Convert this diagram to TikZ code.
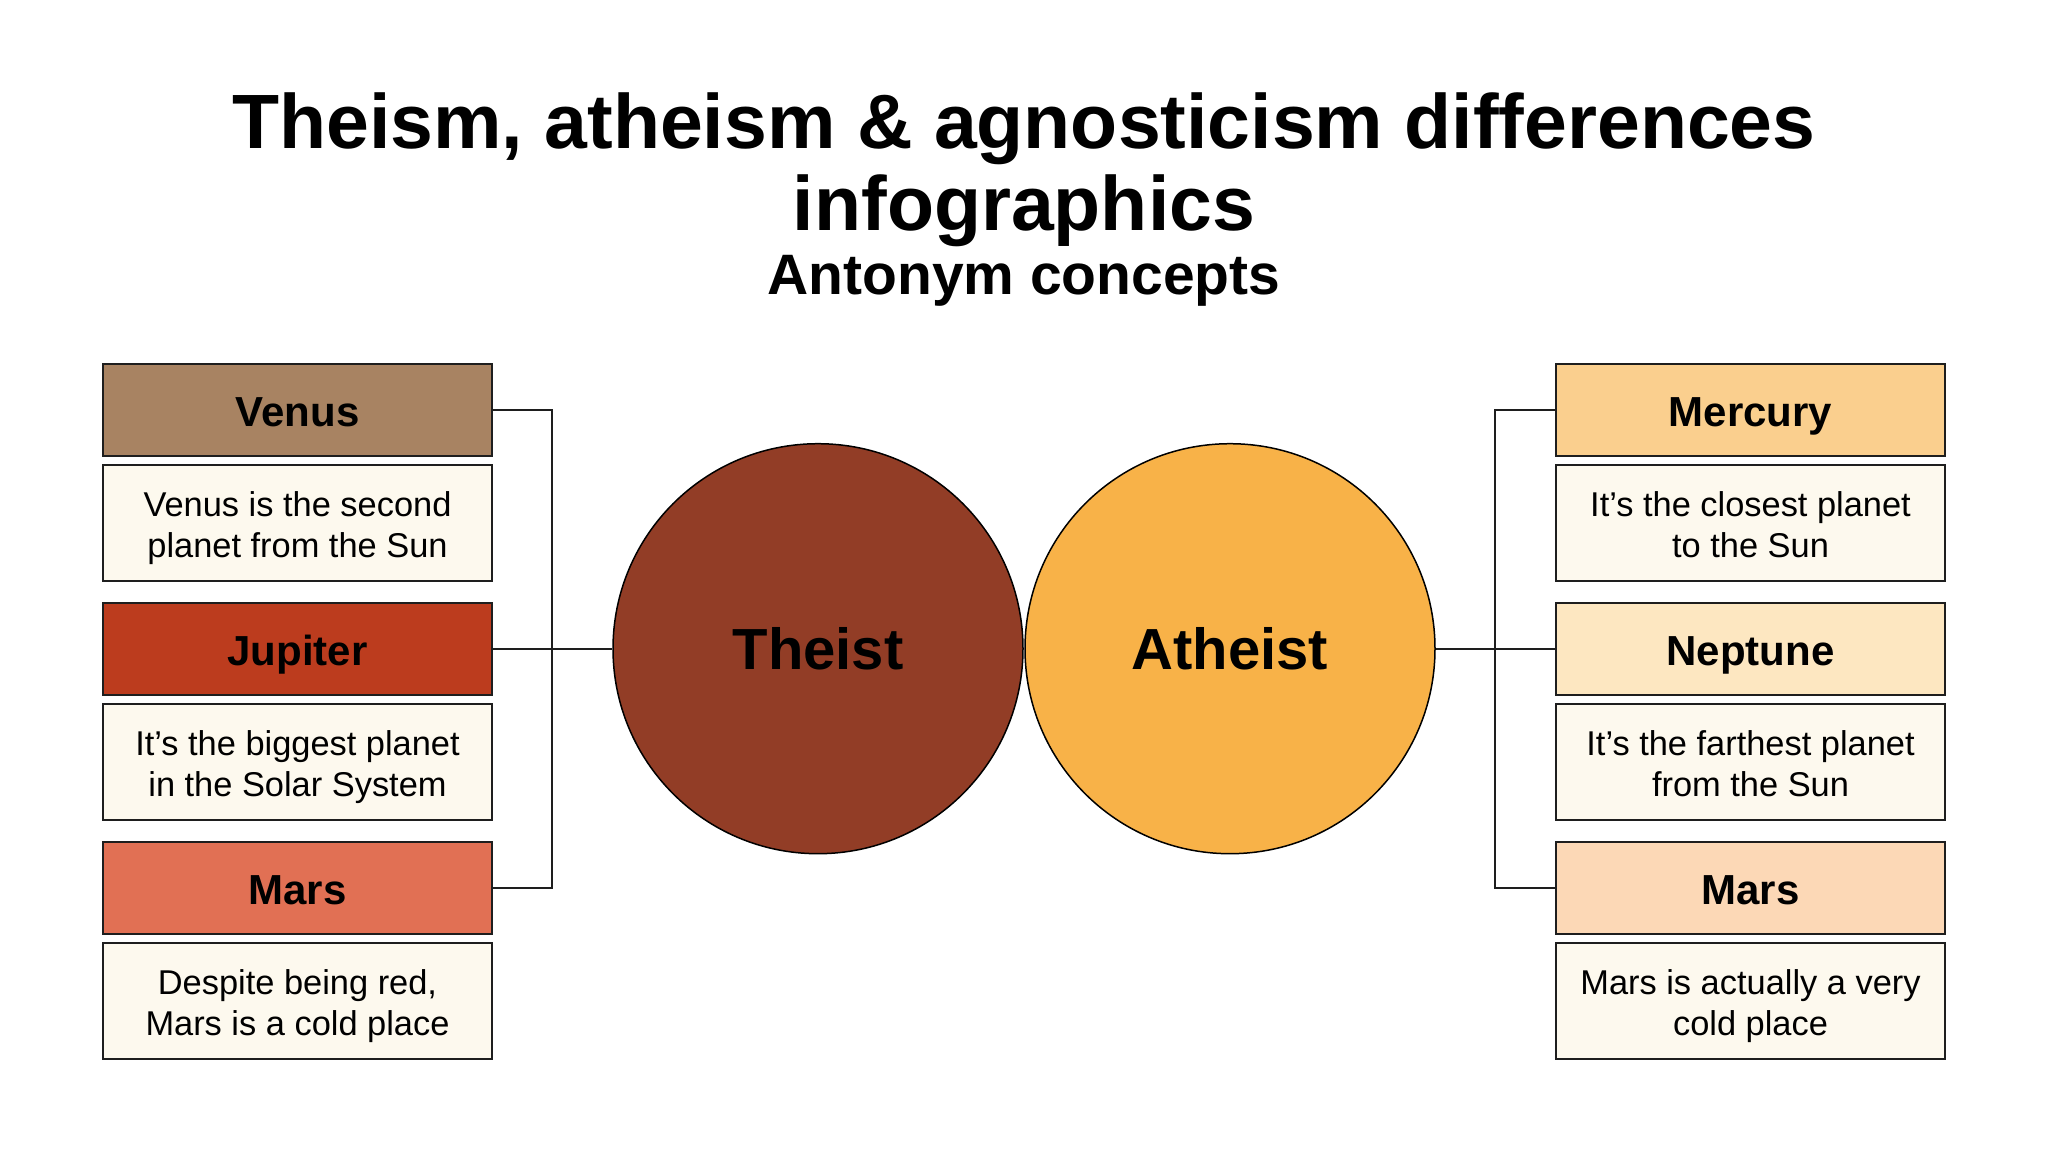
\documentclass[tikz,border=0pt]{standalone}
\usepackage{fontspec}
\setmainfont{Liberation Sans}
\usepackage{xcolor}
\usetikzlibrary{positioning}

\definecolor{lineC}{RGB}{30,30,30}
\definecolor{creamC}{RGB}{253,249,238}
\definecolor{venusC}{RGB}{168,131,98}
\definecolor{jupiterC}{RGB}{188,60,30}
\definecolor{marsC}{RGB}{225,112,84}
\definecolor{mercuryC}{RGB}{250,207,142}
\definecolor{neptuneC}{RGB}{253,231,193}
\definecolor{marsRC}{RGB}{252,216,182}
\definecolor{theistC}{RGB}{146,61,38}
\definecolor{atheistC}{RGB}{248,178,72}

\begin{document}
\begin{tikzpicture}[x=1pt, y=-1pt,
    head/.style={draw=lineC, line width=2pt, minimum width=389pt, minimum height=92pt,
        text height=34pt, text depth=0pt, font=\fontsize{42}{48}\selectfont\bfseries},
    desc/.style={draw=lineC, line width=2pt, fill=creamC, minimum width=389pt, minimum height=116pt,
        text height=78.6pt, text depth=10pt, align=center, font=\fontsize{34.4}{40.5}\selectfont},
    planet/.style={circle, draw=black, line width=1.5pt, minimum size=410pt,
        font=\fontsize{58}{64}\selectfont\bfseries},
    link/.style={draw=lineC, line width=2pt}]

    % Canvas
    \fill[white] (0,0) rectangle (2048,1152);

    % Title
    \node[anchor=base, font=\fontsize{77}{84}\selectfont\bfseries] (title) at (1024,148) {Theism, atheism \& agnosticism differences};
    \node[anchor=base, font=\fontsize{77}{84}\selectfont\bfseries] (title2) at (1024,230) {infographics};
    \node[anchor=base, font=\fontsize{57}{62}\selectfont\bfseries] (subtitle) at (1024,294) {Antonym concepts};

    % Left column
    \node[head, fill=venusC] (venus) at (297.5,409.7) {Venus};
    \node[desc, below=7pt of venus] (venusTxt) {Venus is the second\\planet from the Sun};
    \node[head, fill=jupiterC] (jupiter) at (297.5,648.7) {Jupiter};
    \node[desc, below=7pt of jupiter] (jupiterTxt) {It’s the biggest planet\\in the Solar System};
    \node[head, fill=marsC] (marsL) at (297.5,887.7) {Mars};
    \node[desc, below=7pt of marsL] (marsLTxt) {Despite being red,\\Mars is a cold place};

    % Right column
    \node[head, fill=mercuryC] (mercury) at (1750.5,409.7) {Mercury};
    \node[desc, below=7pt of mercury] (mercuryTxt) {It’s the closest planet\\to the Sun};
    \node[head, fill=neptuneC] (neptune) at (1750.5,648.7) {Neptune};
    \node[desc, below=7pt of neptune] (neptuneTxt) {It’s the farthest planet\\from the Sun};
    \node[head, fill=marsRC] (marsR) at (1750.5,887.7) {Mars};
    \node[desc, below=7pt of marsR] (marsRTxt) {Mars is actually a very\\cold place};

    % Circles
    \node[planet, fill=theistC] (theist) at (818,648.7) {Theist};
    \node[planet, fill=atheistC] (atheist) at (1230,648.7) {Atheist};

    % Connections
    \coordinate (lJoin) at (552,648.7);
    \coordinate (rJoin) at (1495,648.7);
    \draw[link] (venus.east) -| (lJoin) |- (marsL.east);
    \draw[link] (jupiter.east) -- (theist.west);
    \draw[link] (mercury.west) -| (rJoin) |- (marsR.west);
    \draw[link] (neptune.west) -- (atheist.east);
\end{tikzpicture}
\end{document}
